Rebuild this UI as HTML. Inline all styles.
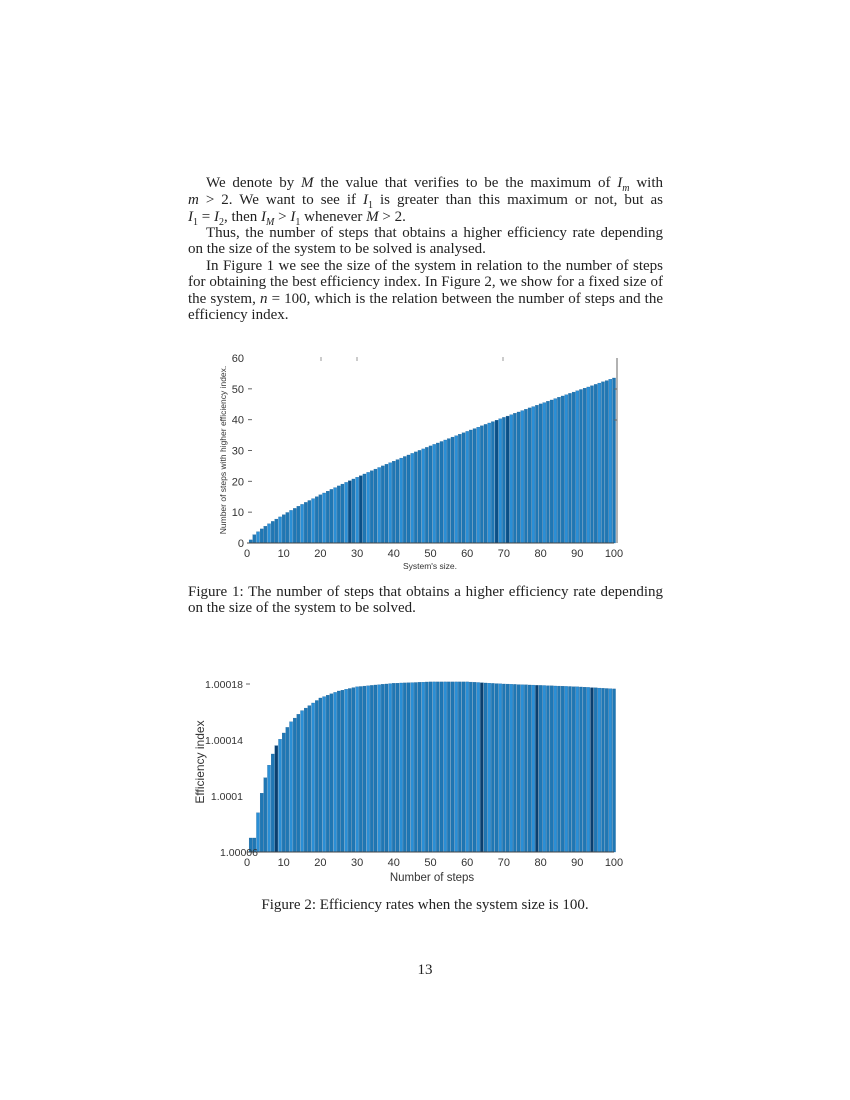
<!DOCTYPE html>
<html><head><meta charset="utf-8">
<style>
body{margin:0;background:#fff;width:850px;height:1100px;position:relative;overflow:hidden;font-family:"Liberation Serif",serif;color:#222}
.l{position:absolute;left:188px;width:475px;font-size:15px;line-height:17px;white-space:nowrap}
.j{text-align:justify;text-align-last:justify;white-space:normal;height:17px;overflow:visible}
.i{padding-left:18px;box-sizing:border-box}
sub{font-size:10px;line-height:0}
svg{position:absolute;left:0;top:0}
svg text{font-family:"Liberation Sans",sans-serif;fill:#333}
</style></head><body>
<div class="l j i" style="top:175px">We denote by <i>M</i> the value that verifies to be the maximum of <i>I<sub>m</sub></i> with</div>
<div class="l j" style="top:192px"><i>m</i> &gt; 2. We want to see if <i>I</i><sub>1</sub> is greater than this maximum or not, but as</div>
<div class="l" style="top:209px"><i>I</i><sub>1</sub> = <i>I</i><sub>2</sub>, then <i>I<sub>M</sub></i> &gt; <i>I</i><sub>1</sub> whenever <i>M</i> &gt; 2.</div>
<div class="l j i" style="top:225px">Thus, the number of steps that obtains a higher efficiency rate depending</div>
<div class="l" style="top:241px">on the size of the system to be solved is analysed.</div>
<div class="l j i" style="top:258px">In Figure 1 we see the size of the system in relation to the number of steps</div>
<div class="l j" style="top:274px">for obtaining the best efficiency index. In Figure 2, we show for a fixed size of</div>
<div class="l j" style="top:291px">the system, <i>n</i> = 100, which is the relation between the number of steps and the</div>
<div class="l" style="top:307px">efficiency index.</div>
<div class="l j" style="top:584px">Figure 1: The number of steps that obtains a higher efficiency rate depending</div>
<div class="l" style="top:600px">on the size of the system to be solved.</div>
<div class="l" style="top:897px;left:0;width:850px;text-align:center">Figure 2: Efficiency rates when the system size is 100.</div>
<div class="l" style="top:962px;left:0;width:850px;text-align:center">13</div>
<svg width="850" height="1100" id="s" xmlns="http://www.w3.org/2000/svg"></svg>
<script>
var s=document.getElementById('s'),h='';
var x0=247,x1=614,bw=(x1-x0)/100;
var y0=543,py=(543-358)/60;
for(var n=1;n<=100;n++){var v=n==1?1:53.5*Math.pow(n/100,0.765);var t=y0-v*py;
var c=(n==28||n==31||n==68||n==71)?'#0b4f86':(n%3==0?'#2a8fd6':'#1f77b4');
h+='<rect x="'+(x0+n*bw-bw/2+0.3).toFixed(2)+'" y="'+t.toFixed(1)+'" width="'+(bw-0.6).toFixed(2)+'" height="'+(y0-t).toFixed(1)+'" fill="'+c+'" stroke="#16609a" stroke-width="0.3"/>';}
h+='<line x1="'+x0+'" y1="543" x2="'+x1+'" y2="543" stroke="#444" stroke-width="1"/>';
h+='<line x1="617" y1="358" x2="617" y2="543" stroke="#666" stroke-width="1"/>';
h+='<line x1="614" x2="617" y1="389" y2="389" stroke="#666"/><line x1="614" x2="617" y1="420" y2="420" stroke="#666"/>';
for(var k=0;k<=10;k++){var x=x0+k*10*bw;h+='<text x="'+x+'" y="557" font-size="11" text-anchor="middle">'+(k*10)+'</text>';}
for(var k=0;k<=6;k++){var y=y0-k*10*py;h+='<text x="244" y="'+(y+4)+'" font-size="11" text-anchor="end">'+(k*10)+'</text>';if(k>0&&k<6)h+='<line x1="248" x2="252" y1="'+y+'" y2="'+y+'" stroke="#666"/>';}
h+='<text x="430" y="569" font-size="8.5" text-anchor="middle">System\'s size.</text>';
h+='<text transform="translate(226,450) rotate(-90)" font-size="8.5" text-anchor="middle">Number of steps with higher efficiency index.</text>';
h+='<line x1="321" x2="321" y1="357" y2="361" stroke="#999"/><line x1="357" x2="357" y1="357" y2="361" stroke="#999"/><line x1="503" x2="503" y1="357" y2="361" stroke="#999"/>';
var b0=852,q=168/12;
var P=[[1,1],[2,1],[3,2.8],[4,4.2],[5,5.3],[6,6.2],[7,7],[8,7.6],[10,8.5],[12,9.3],[15,10.1],[20,11],[25,11.5],[30,11.8],[40,12.05],[50,12.15],[60,12.15],[70,12.0],[80,11.9],[90,11.8],[100,11.65]];
function f(n){for(var i=0;i<P.length-1;i++){if(n>=P[i][0]&&n<=P[i+1][0]){var r=(n-P[i][0])/(P[i+1][0]-P[i][0]);return P[i][1]+r*(P[i+1][1]-P[i][1]);}}return P[P.length-1][1];}
for(var n=1;n<=100;n++){var t=b0-f(n)*q;
var c=(n==8||n==64||n==79||n==94)?'#0b3f6e':(n%3==0?'#2a8fd6':'#1f77b4');
h+='<rect x="'+(x0+n*bw-bw/2+0.3).toFixed(2)+'" y="'+t.toFixed(1)+'" width="'+(bw-0.6).toFixed(2)+'" height="'+(b0-t).toFixed(1)+'" fill="'+c+'" stroke="#16609a" stroke-width="0.3"/>';}
h+='<line x1="'+x0+'" y1="852" x2="'+x1+'" y2="852" stroke="#444"/>';
for(var k=0;k<=10;k++){var x=x0+k*10*bw;h+='<text x="'+x+'" y="866" font-size="11" text-anchor="middle">'+(k*10)+'</text>';}
var labs=['1.00006','1.0001','1.00014','1.00018'];
for(var k=0;k<4;k++){var y=b0-k*56;h+='<text x="'+(k==0?258:243)+'" y="'+(y+4)+'" font-size="10.5" text-anchor="end">'+labs[k]+'</text>';if(k==3)h+='<line x1="246" x2="250" y1="'+y+'" y2="'+y+'" stroke="#666"/>';}
h+='<text x="432" y="881" font-size="11.5" text-anchor="middle">Number of steps</text>';
h+='<text transform="translate(204,762) rotate(-90)" font-size="12" text-anchor="middle">Efficiency index</text>';
s.innerHTML=h;
</script>
</body></html>
